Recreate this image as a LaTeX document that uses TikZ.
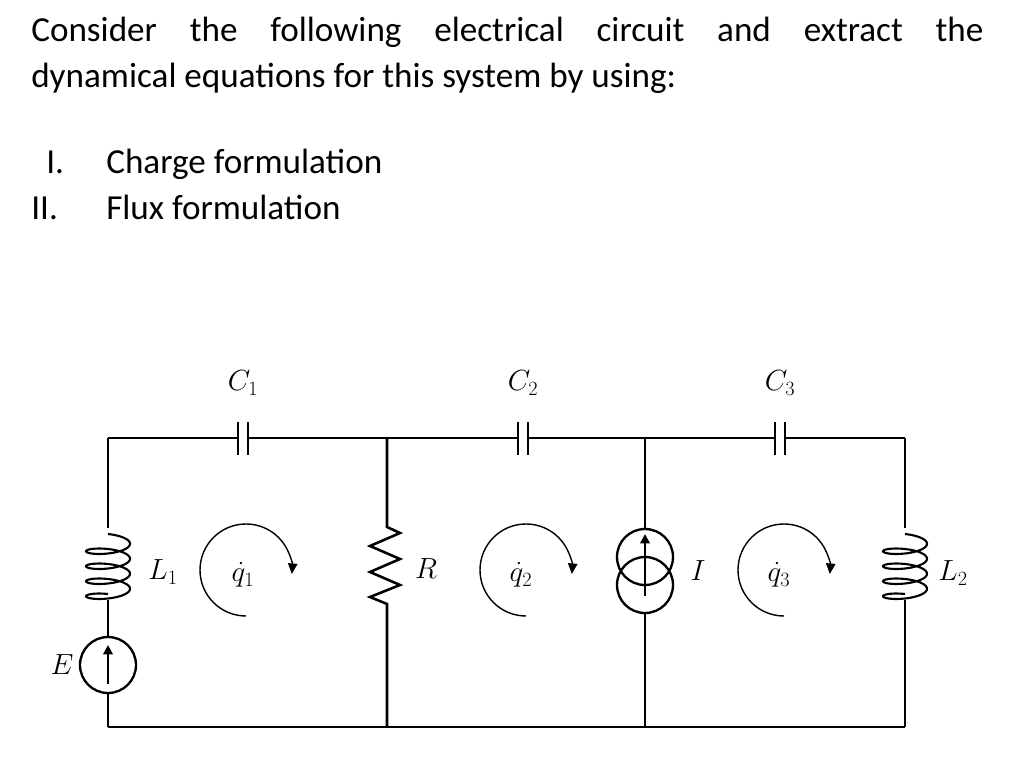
\documentclass[tikz,border=0pt]{standalone}
\usepackage{fontspec}
\newfontfamily\carlitofont{Carlito}
\usetikzlibrary{arrows.meta}
\begin{document}
\begin{tikzpicture}[x=0.03cm,y=-0.03cm,line width=2.2pt,
  hd/.style={anchor=base west,inner sep=0,font=\carlitofont\fontsize{30}{36}\selectfont},
  lb/.style={inner sep=0,font=\fontsize{25}{30}\selectfont},
  loop/.style={line width=1.2pt,-{Triangle[length=9pt,width=8pt]}},
  src/.style={draw,circle,inner sep=0,line width=2pt,minimum size=1.68cm}]
\useasboundingbox (0,0) rectangle (1024,758);
\node[hd] (t1) at (30,42) {Consider\hspace{28pt}the\hspace{28pt}following\hspace{28pt}electrical\hspace{28pt}circuit\hspace{28pt}and\hspace{28pt}extract\hspace{28pt}the};
\node[hd] (t2) at (30,88) {dynamical equations for this system by using:};
\node[hd] (n1) at (45,173) {I.};
\node[hd] (i1) at (105,173) {Charge formulation};
\node[hd] (n2) at (30,219) {II.};
\node[hd] (i2) at (105,219) {Flux formulation};
% corners
\coordinate (a) at (108,438); \coordinate (b) at (387,438);
\coordinate (c) at (645,438); \coordinate (d) at (905,438);
\coordinate (a2) at (108,727); \coordinate (b2) at (387,727);
\coordinate (c2) at (645,727); \coordinate (d2) at (905,727);
% top wires with capacitors
\draw (a) -- (238,438) (238,422) -- (238,455) (248,422) -- (248,455) (248,438) -- (b);
\draw (b) -- (518,438) (518,422) -- (518,455) (528,422) -- (528,455) (528,438) -- (c);
\draw (c) -- (775,438) (775,422) -- (775,455) (785,422) -- (785,455) (785,438) -- (d);
\draw (a2) -- (d2);
% left branch
\draw (a) -- (108,528);
\draw[line width=1.8pt] plot[domain=-90:1350,samples=200,smooth] ({108+22*cos(\x)},{540+(\x+90)/360*15+6*sin(\x)});
\draw (108,600) -- (108,637);
\node[src] (E) at (108,665) {};
\draw[line width=2pt,-{Triangle[length=8pt,width=8pt]}] (108,684) -- (108,645);
\draw (E.south) -- (a2);
% right branch
\draw (d) -- (905,528);
\draw[line width=1.8pt] plot[domain=-90:1350,samples=200,smooth] ({905+22*cos(\x)},{540+(\x+90)/360*15+6*sin(\x)});
\draw (905,600) -- (d2);
% resistor
\draw (b) -- (387,527) -- (400,533) -- (370,546) -- (400,559) -- (370,572) -- (400,585) -- (370,597) -- (387,604) -- (b2);
% current source
\draw (c) -- (645,529);
\node[src] (I1) at (645,557) {};
\node[src] (I2) at (645,585) {};
\draw[line width=2pt,-{Triangle[length=8pt,width=8pt]}] (645,596) -- (645,534);
\draw (645,613) -- (c2);
% loops
\draw[loop] (246,616) arc (90:365:46);
\draw[loop] (526,616) arc (90:365:46);
\draw[loop] (784,616) arc (90:365:46);
% labels
\node[lb] (lC1) at (243,383) {$C_1$};
\node[lb] (lC2) at (523,383) {$C_2$};
\node[lb] (lC3) at (780,383) {$C_3$};
\node[lb] (lq1) at (243,575) {$\dot q_1$};
\node[lb] (lq2) at (521,575) {$\dot q_2$};
\node[lb] (lq3) at (779,575) {$\dot q_3$};
\node[lb] (lL1) at (163,572) {$L_1$};
\node[lb] (lR) at (426,569) {$R$};
\node[lb] (lI) at (698,571) {$I$};
\node[lb] (lL2) at (953,573) {$L_2$};
\node[lb] (lE) at (62,665) {$E$};
\end{tikzpicture}
\end{document}
